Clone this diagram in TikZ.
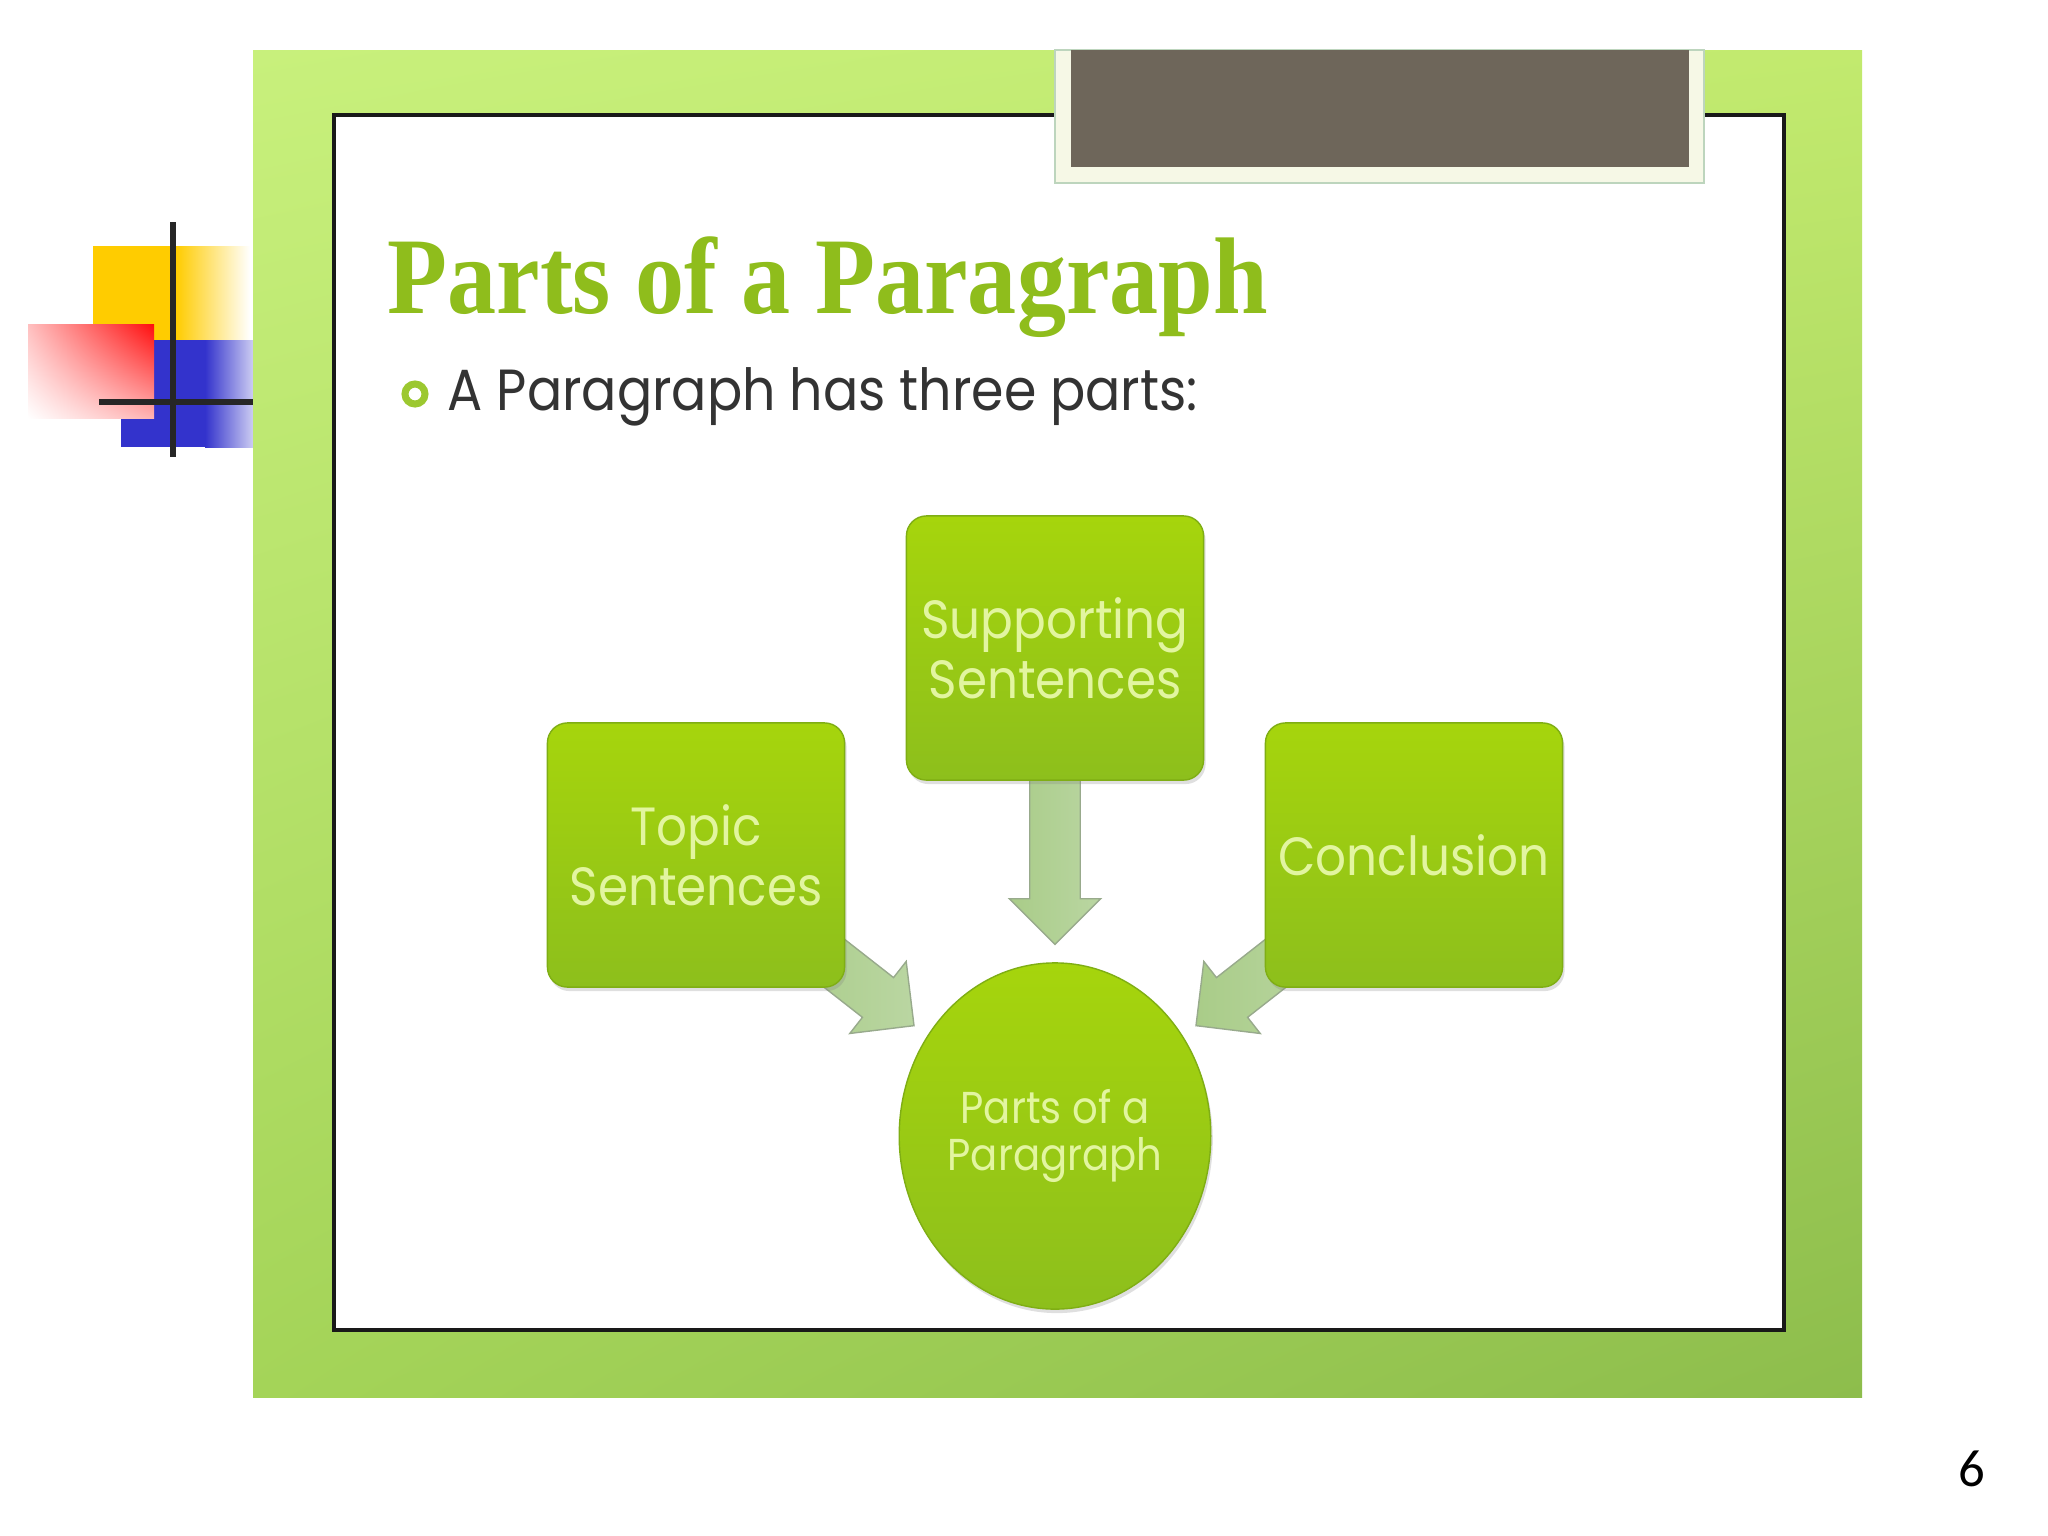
\documentclass[tikz,border=0pt]{standalone}
\usepackage{fontspec}
\setmainfont{Liberation Serif}
\newfontfamily\gothic{Poppins}
\newfontfamily\pagefont{Carlito}
\usetikzlibrary{shapes.arrows,shadows,shadings}
\pgfdeclarelayer{back}
\pgfdeclarelayer{mid}
\pgfsetlayers{back,mid,main}

\begin{document}
\begin{tikzpicture}[x=0.01cm,y=-0.01cm,
    partbox/.style={draw=boxedge, rounded corners=0.2cm, top color=boxtop, bottom color=boxbot,
      minimum width=3.30cm, minimum height=2.64cm, xscale=0.9, align=center, text=boxtext,
      font=\gothic\fontsize{15.3}{17}\selectfont,
      drop shadow={shadow xshift=0.02cm, shadow yshift=-0.04cm, opacity=0.25}},
    partcircle/.style={partbox, circle, minimum size=3.46cm, font=\gothic\fontsize{12.7}{13.4}\selectfont},
    fatarrow/.style={single arrow, draw=arrowedge, left color=arrowdeep, right color=arrowfill,
      inner xsep=0pt, inner ysep=0.245cm,
      single arrow head extend=0.205cm, single arrow head indent=0pt,
      sloped, allow upside down},
    titletext/.style={font=\bfseries\fontsize{31}{36}\selectfont, text=titlegreen, xscale=0.9, inner sep=0pt},
    bullettext/.style={font=\gothic\fontsize{16.5}{20}\selectfont, text=introgray, xscale=0.9, inner sep=0pt},
    bulletring/.style={circle, draw=bulletgreen, line width=2pt, minimum size=0.2cm, inner sep=0pt}]
    \definecolor{slidetl}{HTML}{C8F07C}\definecolor{slidetr}{HTML}{C2EA6E}
    \definecolor{slidebl}{HTML}{A4D458}\definecolor{slidebr}{HTML}{8DBD4C}
    \definecolor{boxtop}{HTML}{A6D50C}\definecolor{boxbot}{HTML}{8DBF1C}
    \definecolor{boxedge}{HTML}{7FAE14}\definecolor{boxtext}{HTML}{E2F5A0}
    \definecolor{arrowfill}{HTML}{BAD6A2}\definecolor{arrowdeep}{HTML}{A9CC88}
    \definecolor{arrowedge}{HTML}{98AA8C}
    \definecolor{titlegreen}{HTML}{8FBD1C}\definecolor{introgray}{HTML}{333333}
    \definecolor{bulletgreen}{HTML}{9CC830}\definecolor{framebrown}{HTML}{6E665A}
    \definecolor{framecream}{HTML}{F6F8E6}\definecolor{logoyellow}{HTML}{FFCC00}
    \definecolor{logoblue}{HTML}{3333CC}
    \useasboundingbox (0,0) rectangle (2048,1536);
    \begin{pgfonlayer}{back}
    \fill[white] (0,0) rectangle (2048,1536);
    % corner logo
    \fill[logoyellow] (93,246) rectangle (176,340);
    \shade[left color=logoyellow, right color=white] (176,246) rectangle (250,340);
    \fill[logoblue] (121,340) rectangle (205,447);
    \shade[left color=logoblue, right color=logoblue!25] (205,340) rectangle (253,447);
    \shade[upper right=red!95, upper left=red!25, lower right=red!30, lower left=white] (28,324) rectangle (154,418);
    \draw[line width=1.8pt, black!85] (173,222) -- (173,457) (99,402) -- (253,402);
    % slide
    \shade[upper left=slidetl, upper right=slidetr, lower left=slidebl, lower right=slidebr] (253,50) rectangle (1862,1397);
    \draw[line width=1pt, black!90, fill=white] (334,115) rectangle (1784,1330);
    \filldraw[draw=black!20!green!30!gray!40, fill=framecream] (1055,50) rectangle (1704,183);
    \fill[framebrown] (1071,50) rectangle (1689,167);
    \end{pgfonlayer}

    \node[titletext, anchor=base west] (title) at (387,313) {Parts of a Paragraph};
    \node[bulletring] (dot) at (415,394) {};
    \node[bullettext, anchor=base west] (intro) at (447,410) {A Paragraph has three parts:};

    \node[partbox] (sup) at (1055,648) {Supporting\\Sentences};
    \node[partbox] (topic) at (696,855) {Topic\\Sentences};
    \node[partbox] (concl) at (1414,855) {Conclusion};
    \node[partcircle] (para) at (1055,1136) {Parts of a\\Paragraph};

    \begin{pgfonlayer}{mid}
    \path (sup.south) -- node[fatarrow, pos=0.35, minimum height=1.75cm] {} (para.north);
    \foreach \x in {topic,concl}
      \path (\x.center) -- node[fatarrow, pos=0.415, minimum height=1.5cm] {} (para.center);
    \end{pgfonlayer}

    \node[font=\pagefont\fontsize{15}{18}\selectfont] (page) at (1972,1469) {6};
\end{tikzpicture}
\end{document}
